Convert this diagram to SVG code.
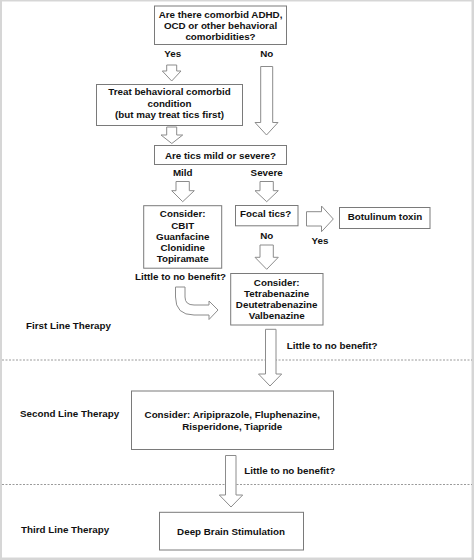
<svg xmlns="http://www.w3.org/2000/svg" width="474" height="560" viewBox="0 0 474 560">
<style>
.box{fill:#fff;stroke:#7a7a7a;stroke-width:1}
.arr{fill:#fff;stroke:#8c8c8c;stroke-width:1;stroke-linejoin:miter}
.t{font-family:"Liberation Sans",Arial,sans-serif;font-weight:bold;font-size:9.8px;fill:#111}
.c{text-anchor:middle}
.dash{stroke:#9a9a9a;stroke-width:1;stroke-dasharray:2,1.5;fill:none}
</style>
<rect x="0" y="0" width="474" height="560" fill="#d6d6d6"/>
<rect x="2" y="1.5" width="469.5" height="556" fill="#fff"/>

<g id="separators">
<line class="dash" x1="2" y1="360" x2="472" y2="360"/>
<line class="dash" x1="2" y1="484.5" x2="472" y2="484.5"/>
</g>

<g id="labels">
<text class="t" x="26" y="328.5">First Line Therapy</text>
<text class="t" x="20" y="416.8">Second Line Therapy</text>
<text class="t" x="21" y="532.5">Third Line Therapy</text>
</g>

<g id="connectors">
<polygon class="arr" points="166.7,65 176.7,65 176.7,71 181,71 171.7,81 162.3,71 166.7,71"/>
<polygon class="arr" points="260.7,66.5 272.7,66.5 272.7,122.5 278,122.5 266.5,135 255,122.5 260.7,122.5"/>
<polygon class="arr" points="166.7,127 176.7,127 176.7,135 182.7,135 171.8,143.5 161,135 166.7,135"/>
<polygon class="arr" points="176,181.5 189.3,181.5 189.3,190.7 194.3,190.7 182.7,201.7 171.7,190.7 176,190.7"/>
<polygon class="arr" points="260,181.5 273.3,181.5 273.3,190.7 278.3,190.7 266.7,201.7 255,190.7 260,190.7"/>
<polygon class="arr" points="306.5,211.7 321.5,211.7 321.5,206 333.3,219 321.5,231.7 321.5,226 306.5,226"/>
<polygon class="arr" points="260,245 273.3,245 273.3,257.3 278.3,257.3 266.7,269.3 255,257.3 260,257.3"/>
<path class="arr" d="M175.5,287 L185,287 L185,297 Q185,305 194,305 L209,305 L209,301 L218,310 L209,319.5 L209,315 L194,315 Q175.5,315 175.5,297 Z"/>
<polygon class="arr" points="265.5,329.3 276,329.3 276,374 281.7,374 270,386 258.5,374 265.5,374"/>
<polygon class="arr" points="225.5,455.5 236,455.5 236,495 242.7,495 231,507 219.3,495 225.5,495"/>
<text class="t c" x="172.7" y="56.8">Yes</text>
<text class="t c" x="266.7" y="56.8">No</text>
<text class="t c" x="182.7" y="175.5">Mild</text>
<text class="t c" x="266.7" y="175.5">Severe</text>
<text class="t c" x="266.7" y="239.2">No</text>
<text class="t c" x="320" y="243.5">Yes</text>
<text class="t c" x="180.5" y="280.2">Little to no benefit?</text>
<text class="t" x="286.7" y="349.2">Little to no benefit?</text>
<text class="t" x="244.3" y="474.2">Little to no benefit?</text>
</g>

<g id="n1">
<rect class="box" x="154.5" y="6" width="132" height="38.5"/>
<text class="t c" x="220.5" y="17.8">Are there comorbid ADHD,</text>
<text class="t c" x="220.5" y="28.9">OCD or other behavioral</text>
<text class="t c" x="220.5" y="40.2">comorbidities?</text>
</g>
<g id="n2">
<rect class="box" x="96.5" y="84.5" width="146" height="41"/>
<text class="t c" x="169.5" y="95.2">Treat behavioral comorbid</text>
<text class="t c" x="169.5" y="106.8">condition</text>
<text class="t c" x="169.5" y="118.2">(but may treat tics first)</text>
</g>
<g id="n3">
<rect class="box" x="154.5" y="145.5" width="132" height="19"/>
<text class="t c" x="220.5" y="158.5">Are tics mild or severe?</text>
</g>
<g id="n4">
<rect class="box" x="143.7" y="205.7" width="78" height="62.5"/>
<text class="t c" x="182.7" y="217.2">Consider:</text>
<text class="t c" x="182.7" y="228.5">CBIT</text>
<text class="t c" x="182.7" y="240.2">Guanfacine</text>
<text class="t c" x="182.7" y="250.8">Clonidine</text>
<text class="t c" x="182.7" y="262.2">Topiramate</text>
</g>
<g id="n5">
<rect class="box" x="235.5" y="205.5" width="62.5" height="20.3"/>
<text class="t c" x="265.7" y="217.2">Focal tics?</text>
</g>
<g id="n6">
<rect class="box" x="339.5" y="207.5" width="90.5" height="21"/>
<text class="t c" x="385" y="219.5">Botulinum toxin</text>
</g>
<g id="n7">
<rect class="box" x="230.7" y="273.5" width="92.3" height="51.5"/>
<text class="t c" x="276.7" y="285.8">Consider:</text>
<text class="t c" x="276.7" y="296.8">Tetrabenazine</text>
<text class="t c" x="276.7" y="307.8">Deutetrabenazine</text>
<text class="t c" x="276.7" y="318.8">Valbenazine</text>
</g>
<g id="n8">
<rect class="box" x="131.5" y="391" width="202" height="58.5"/>
<text class="t c" x="232.3" y="417.8">Consider: Aripiprazole, Fluphenazine,</text>
<text class="t c" x="232.3" y="429.5">Risperidone, Tiapride</text>
</g>
<g id="n9">
<rect class="box" x="159.5" y="512.3" width="144" height="37.7"/>
<text class="t c" x="231" y="534.5">Deep Brain Stimulation</text>
</g>
</svg>
